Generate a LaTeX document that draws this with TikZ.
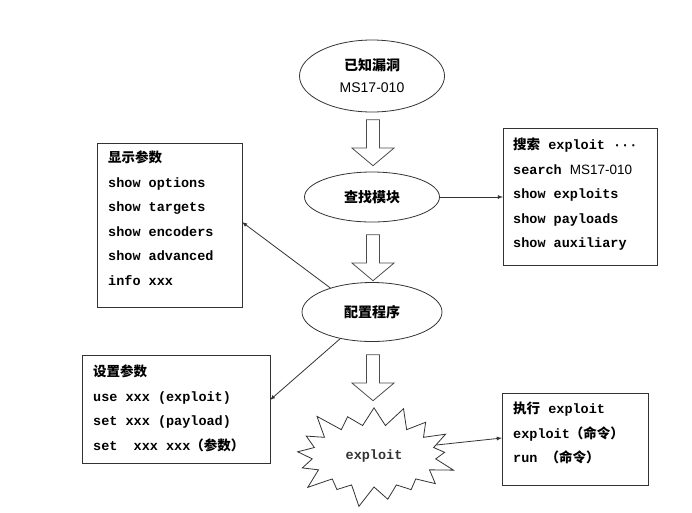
\documentclass[tikz,border=0pt]{standalone}
\usepackage{fontspec}
\newfontfamily\cjk{Noto Sans CJK SC}
\newfontfamily\mono{Liberation Mono}
\usetikzlibrary{shapes.geometric,shapes.symbols,shapes.arrows}
\begin{document}
\begin{tikzpicture}[x=1pt,y=-1pt,
  ell/.style={ellipse,draw,thick,black!80,text=black,font=\cjk\bfseries\fontsize{14}{22}\selectfont,align=center},
  box/.style={draw,thick,black!80,text=black,anchor=north west,align=left,inner sep=0pt},
  txt/.style={anchor=north west,align=left,inner sep=0pt,font=\mono\bfseries\fontsize{13.5}{24.5}\selectfont},
  blk/.style={single arrow,draw,thick,black!70,shape border rotate=270,minimum width=42pt,single arrow head extend=10pt,single arrow tip angle=100,minimum height=46pt,inner sep=4pt},
  con/.style={-latex,thick,black!80}]
\useasboundingbox (0,0) rectangle (692,512);
\node[ell,minimum width=145pt,minimum height=72pt] (e1) at (372,76) {已知漏洞\\{\fontspec{Liberation Sans}\mdseries MS17-010}};
\node[ell,minimum width=135pt,minimum height=50pt] (e2) at (372,197) {查找模块};
\node[ell,minimum width=140pt,minimum height=59pt] (e3) at (372,312) {配置程序};
\node[blk] (a1) at (373,140) {};
\node[blk] (a2) at (373,255) {};
\node[blk] (a3) at (373,375) {};
\node[starburst,draw,thick,black!80,starburst points=17,starburst point height=24pt,minimum width=172pt,minimum height=110pt,font=\mono\bfseries\fontsize{13.5}{16}\selectfont] (sb) at (374,456) {exploit};
\node[box,minimum width=154pt,minimum height=137pt] (rb1) at (503,128) {};
\node[txt] at (513,138) {%
 {\cjk 搜索} exploit ···\\
 search {\fontspec{Liberation Sans}\mdseries MS17-010}\\
 show exploits\\ show payloads\\ show auxiliary};
\node[box,minimum width=145pt,minimum height=164pt] (lb1) at (97,143) {};
\node[txt] at (108,151) {%
 {\cjk 显示参数}\\ show options\\ show targets\\ show encoders\\ show advanced\\ info xxx};
\node[box,minimum width=188pt,minimum height=108pt] (lb2) at (82,355) {};
\node[txt] at (93,365) {%
 {\cjk 设置参数}\\ use xxx (exploit)\\ set xxx (payload)\\ set \ xxx xxx{\cjk（参数）}};
\node[box,minimum width=146pt,minimum height=92pt] (rb2) at (502,393) {};
\node[txt] at (513,402) {%
 {\cjk 执行} exploit\\ exploit{\cjk（命令）}\\ run {\cjk（命令）}};
\coordinate (p1) at (503,197);
\coordinate (p2) at (242,222);
\coordinate (p3) at (270,400);
\coordinate (p4) at (502,438);
\draw[con] (e2.east) -- (p1);
\draw[con] (e3.150) -- (p2);
\draw[con] (e3.220) -- (p3);
\draw[con] (sb.10) -- (p4);
\end{tikzpicture}
\end{document}
